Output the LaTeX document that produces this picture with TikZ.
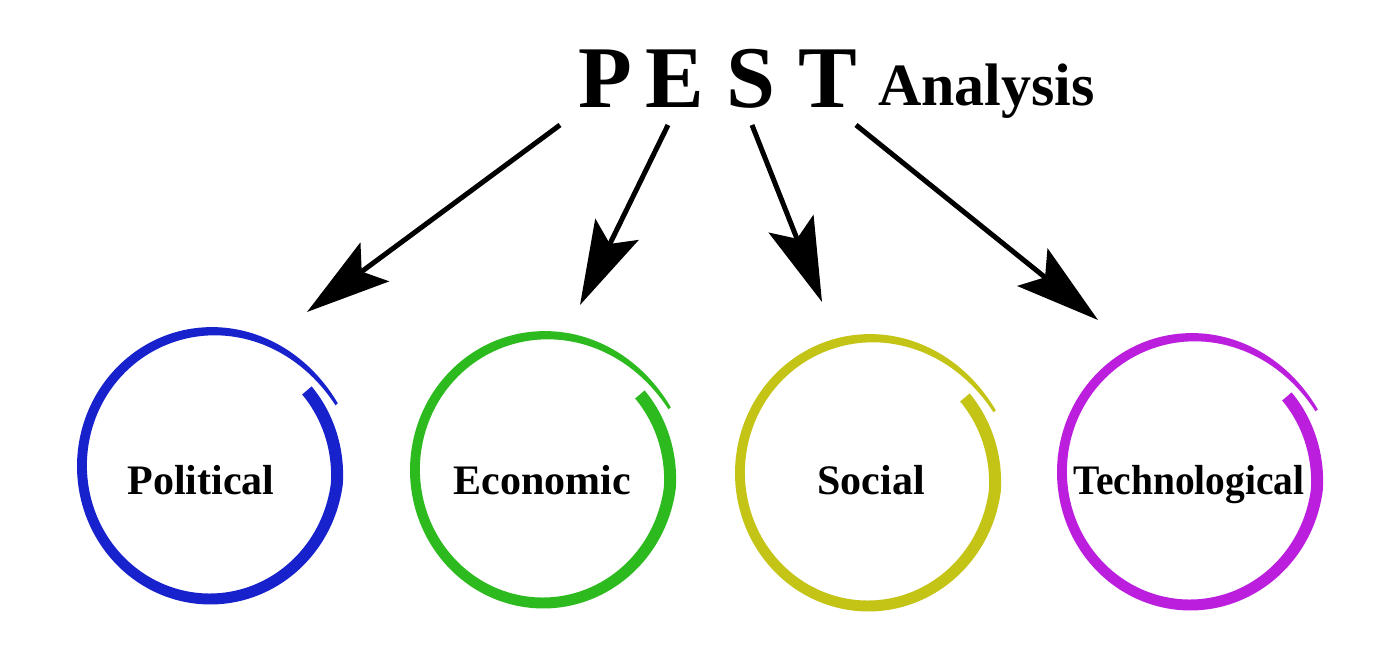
\documentclass[tikz,border=0pt]{standalone}
\usepackage{fontspec}
\setmainfont{Liberation Serif}
\usetikzlibrary{arrows.meta}
\definecolor{ringblue}{RGB}{24,34,204}
\definecolor{ringgreen}{RGB}{44,186,30}
\definecolor{ringyellow}{RGB}{196,196,22}
\definecolor{ringmagenta}{RGB}{188,30,222}
\tikzset{
  declare function={roff(\u)=-7*(1-min(\u,0.12)/0.12)+12*\u^10;
                    rw(\u)=(12.5-4.5*\u)*(1-10*max(0,\u-0.75)^2);},
  bigletter/.style={anchor=base, inner sep=0pt, font=\fontsize{88}{88}\selectfont\bfseries},
  subtitle/.style={anchor=base, inner sep=0pt, font=\fontsize{60}{60}\selectfont\bfseries},
  lab/.style={anchor=base, inner sep=0pt, font=\fontsize{42}{42}\selectfont\bfseries},
  arr/.style={line width=5pt, -{Stealth[length=84pt,width=48pt,inset=16pt]}},
}
\newcommand{\brushring}[3]{%
  \fill[#3] plot[domain=0:1,samples=200,variable=\s,smooth]
      ({#1+(128+roff(\s)+rw(\s)/2)*cos(37-372*\s)},{#2-(133+roff(\s)+rw(\s)/2)*sin(37-372*\s)})
    -- plot[domain=1:0,samples=200,variable=\s,smooth]
      ({#1+(128+roff(\s)-rw(\s)/2)*cos(37-372*\s)},{#2-(133+roff(\s)-rw(\s)/2)*sin(37-372*\s)})
    -- cycle;}
\begin{document}
\begin{tikzpicture}[x=1pt,y=-1pt]
\fill[white] (0,0) rectangle (1400,655);
\useasboundingbox (0,0) rectangle (1400,655);
% title
\node[bigletter] (P) at (605,108) {P};
\node[bigletter] (E) at (675,108) {E};
\node[bigletter] (S) at (751,108) {S};
\node[bigletter] (T) at (828,108) {T};
\node[subtitle, anchor=base west] (an) at (878,106) {Analysis};
% rings
\brushring{210}{466}{ringblue}
\brushring{543}{470}{ringgreen}
\brushring{868}{473}{ringyellow}
\brushring{1190}{472}{ringmagenta}
% labels
\node[lab] (pol) at (201,494) {Political};
\node[lab] (eco) at (542,494) {Economic};
\node[lab] (soc) at (871,494) {Social};
\node[lab, xscale=0.94, transform shape] (tec) at (1189,494) {Technological};
% arrows
\coordinate (a1s) at (560,125); \coordinate (a1e) at (307,312);
\coordinate (a2s) at (668,125); \coordinate (a2e) at (580,305);
\coordinate (a3s) at (752,125); \coordinate (a3e) at (822,302);
\coordinate (a4s) at (856,125); \coordinate (a4e) at (1098,320);
\draw[arr] (a1s) -- (a1e);
\draw[arr] (a2s) -- (a2e);
\draw[arr] (a3s) -- (a3e);
\draw[arr] (a4s) -- (a4e);
\end{tikzpicture}
\end{document}
